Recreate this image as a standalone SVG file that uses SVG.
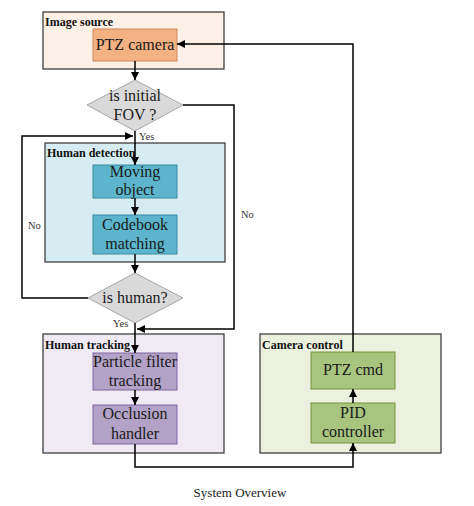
<svg xmlns="http://www.w3.org/2000/svg" width="474" height="506" viewBox="0 0 474 506">
<style>
.t{font-family:"Liberation Serif","Times New Roman","DejaVu Serif",serif;font-size:16px;fill:#1a1a1a;text-anchor:middle}
.lb{font-family:"Liberation Serif","Times New Roman","DejaVu Serif",serif;font-size:12px;font-weight:bold;fill:#111}
.sm{font-family:"Liberation Serif","Times New Roman","DejaVu Serif",serif;font-size:10.5px;fill:#333}
.cap{font-family:"Liberation Serif","Times New Roman","DejaVu Serif",serif;font-size:13px;fill:#222;text-anchor:middle}
.grp{stroke:#404040;stroke-width:1.3}
.c{fill:none;stroke:#000;stroke-width:1.5}
.dia{fill:#d9d9d9;stroke:#a6a6a6;stroke-width:1}
</style>
<defs>
<marker id="ah" viewBox="0 0 10 10" refX="10" refY="5" markerWidth="8" markerHeight="8" markerUnits="userSpaceOnUse" orient="auto">
<path d="M0,0 L10,5 L0,10 z" fill="#000"/>
</marker>
</defs>
<rect width="474" height="506" fill="#fff"/>

<g id="image-source">
<rect class="grp" x="43" y="12" width="181" height="57" fill="#fdf0e6"/>
<text class="lb" x="45" y="26">Image source</text>
</g>
<g id="ptz-camera">
<rect x="93" y="29" width="84" height="32" fill="#f4b183" stroke="#c98a5c" stroke-width="1"/>
<text class="t" x="135" y="50">PTZ camera</text>
</g>
<g id="initial-fov">
<polygon class="dia" points="135,80 183,105 135,131 87,105"/>
<text class="t" x="135" y="101">is initial</text>
<text class="t" x="135" y="120">FOV ?</text>
</g>

<g id="human-detection">
<rect class="grp" x="45" y="143" width="180" height="119" fill="#d5ecf3"/>
<text class="lb" x="47" y="157">Human detection</text>
</g>
<g id="moving-object">
<rect x="93" y="165" width="84" height="33" fill="#5cb5cc" stroke="#3a8aa0" stroke-width="1"/>
<text class="t" x="135" y="177">Moving</text>
<text class="t" x="135" y="195">object</text>
</g>
<g id="codebook">
<rect x="93" y="215" width="84" height="39" fill="#5cb5cc" stroke="#3a8aa0" stroke-width="1"/>
<text class="t" x="135" y="230">Codebook</text>
<text class="t" x="135" y="249">matching</text>
</g>
<g id="is-human">
<polygon class="dia" points="135,273 183,298 135,323 88,298"/>
<text class="t" x="135" y="303">is human?</text>
</g>

<g id="human-tracking">
<rect class="grp" x="43" y="334" width="181" height="119" fill="#efeaf3"/>
<text class="lb" x="45" y="349">Human tracking</text>
</g>
<g id="particle-filter">
<rect x="93" y="353" width="84" height="37" fill="#b3a2c7" stroke="#8064a2" stroke-width="1"/>
<text class="t" x="135" y="367">Particle filter</text>
<text class="t" x="135" y="386">tracking</text>
</g>
<g id="occlusion">
<rect x="93" y="405" width="84" height="39" fill="#b3a2c7" stroke="#8064a2" stroke-width="1"/>
<text class="t" x="135" y="419">Occlusion</text>
<text class="t" x="135" y="439">handler</text>
</g>

<g id="camera-control">
<rect class="grp" x="260" y="334" width="181" height="119" fill="#ebf1de"/>
<text class="lb" x="262" y="349">Camera control</text>
</g>
<g id="ptz-cmd">
<rect x="311" y="352" width="84" height="37" fill="#a9c47f" stroke="#77933c" stroke-width="1"/>
<text class="t" x="353" y="375">PTZ cmd</text>
</g>
<g id="pid">
<rect x="311" y="403" width="84" height="40" fill="#a9c47f" stroke="#77933c" stroke-width="1"/>
<text class="t" x="353" y="418">PID</text>
<text class="t" x="353" y="437">controller</text>
</g>

<g id="connectors">
<path class="c" d="M135,61 V80" marker-end="url(#ah)"/>
<path class="c" d="M135,131 V165" marker-end="url(#ah)"/>
<path class="c" d="M135,198 V215" marker-end="url(#ah)"/>
<path class="c" d="M135,254 V273" marker-end="url(#ah)"/>
<path class="c" d="M135,323 V353" marker-end="url(#ah)"/>
<path class="c" d="M183,105 H234 V329 H137" marker-end="url(#ah)"/>
<path class="c" d="M88,298 H22 V136 H133" marker-end="url(#ah)"/>
<path class="c" d="M135,390 V405" marker-end="url(#ah)"/>
<path class="c" d="M135,444 V467 H353 V443" marker-end="url(#ah)"/>
<path class="c" d="M353,403 V389" marker-end="url(#ah)"/>
<path class="c" d="M353,352 V44 H177" marker-end="url(#ah)"/>
<text class="sm" x="139" y="140">Yes</text>
<text class="sm" x="113" y="327">Yes</text>
<text class="sm" x="28" y="229">No</text>
<text class="sm" x="241" y="218">No</text>
</g>

<text class="cap" x="240" y="497">System Overview</text>
</svg>
